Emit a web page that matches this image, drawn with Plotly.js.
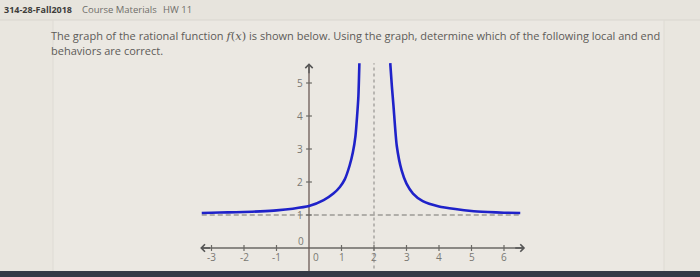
<!DOCTYPE html>
<html>
<head>
<meta charset="utf-8">
<script src="https://cdn.plot.ly/plotly-3.0.1.min.js"></script>
<style>html,body{margin:0;padding:0;background:#e9e6df;}#chart{width:700px;height:277px;}</style>
</head>
<body>
<div id="chart"></div>
<script>
// ---- data ----
const leftX = [-3.3, -3, -2.5, -2, -1.5, -1, -0.5, 0, 0.45, 0.75, 0.95, 1.1, 1.25, 1.35, 1.43, 1.48, 1.52, 1.55];
const leftY = [1.06, 1.07, 1.08, 1.09, 1.11, 1.14, 1.19, 1.27, 1.45, 1.65, 1.85, 2.08, 2.5, 2.9, 3.4, 4.0, 4.6, 5.6];
const rightX = [2.5, 2.55, 2.6, 2.7, 2.85, 3.0, 3.2, 3.5, 4.0, 4.5, 5.0, 5.5, 6.0, 6.5];
const rightY = [5.6, 4.9, 4.3, 3.1, 2.35, 1.95, 1.65, 1.42, 1.26, 1.18, 1.12, 1.09, 1.07, 1.06];
const xTicks = [-3, -2, -1, 1, 2, 3, 4, 5, 6];
const xTickLabels = ['-3', '-2', '-1', '1', '2', '3', '4', '5', '6'];
const yTicks = [1, 2, 3, 4, 5];
const yTickLabels = ['1', '2', '3', '4', '5'];
const vAsymptote = 2;
const hAsymptote = 1;
const xAxisMin = -3.3, xAxisMax = 6.6;
const yAxisMin = -0.8, yAxisMax = 5.55;
const headerBold = '314-28-Fall2018';
const headerItems = ['Course Materials', 'HW 11'];
const mathF = '<span style="font-family:\'DejaVu Serif\';font-size:11.5px"><i>f</i>(<i>x</i>)</span>';
const questionLine1 = 'The graph of the rational function ' + mathF + ' is shown below. Using the graph, determine which of the following local and end';
const questionLine2 = 'behaviors are correct.';

const W = 700, H = 277;
const px = (p) => p / W, py = (p) => 1 - p / H;

const curveStyle = {color: '#1f22c9', width: 2.6};
const traces = [
  {x: leftX, y: leftY, mode: 'lines', line: Object.assign({shape: 'spline', smoothing: 0.6}, curveStyle), hoverinfo: 'skip'},
  {x: rightX, y: rightY, mode: 'lines', line: Object.assign({shape: 'spline', smoothing: 0.6}, curveStyle), hoverinfo: 'skip'}
];

const axisColor = '#6a6864';
const labelColor = '#7a7873';
const shapes = [
  // backgrounds
  {type: 'rect', xref: 'paper', yref: 'paper', x0: 0, x1: 1, y0: py(20), y1: 1, fillcolor: '#e7e4dd', line: {width: 0}, layer: 'below'},
  {type: 'rect', xref: 'paper', yref: 'paper', x0: px(53), x1: px(664), y0: py(271), y1: py(20), fillcolor: '#ebe8e2', line: {width: 0}, layer: 'below'},
  {type: 'line', xref: 'paper', yref: 'paper', x0: 0, x1: 1, y0: py(20), y1: py(20), line: {color: '#d9d6cf', width: 1}, layer: 'below'},
  {type: 'line', xref: 'paper', yref: 'paper', x0: px(53), x1: px(53), y0: py(271), y1: py(20), line: {color: '#dedbd4', width: 1}, layer: 'below'},
  {type: 'line', xref: 'paper', yref: 'paper', x0: px(664), x1: px(664), y0: py(271), y1: py(20), line: {color: '#dedbd4', width: 1}, layer: 'below'},
  {type: 'rect', xref: 'paper', yref: 'paper', x0: 0, x1: 1, y0: 0, y1: py(271), fillcolor: '#343a46', line: {width: 0}, layer: 'above'},
  // asymptotes
  {type: 'line', x0: vAsymptote, x1: vAsymptote, y0: yAxisMin, y1: yAxisMax + 0.05, line: {color: '#9d9b97', width: 1.3, dash: '3px,3px'}, layer: 'below'},
  {type: 'line', x0: xAxisMin, x1: xAxisMax - 0.1, y0: hAsymptote, y1: hAsymptote, line: {color: '#9d9b97', width: 1.3, dash: '5px,3px'}, layer: 'below'},
  // axes
  {type: 'line', x0: xAxisMin, x1: xAxisMax, y0: 0, y1: 0, line: {color: axisColor, width: 1.3}, layer: 'below'},
  {type: 'line', x0: 0, x1: 0, y0: yAxisMin, y1: yAxisMax, line: {color: '#6b5a55', width: 1.3}, layer: 'below'}
];
xTicks.forEach(t => shapes.push({type: 'line', x0: t, x1: t, y0: -0.09, y1: 0.09, line: {color: axisColor, width: 1.2}, layer: 'below'}));
yTicks.forEach(t => shapes.push({type: 'line', x0: -0.09, x1: 0.09, y0: t, y1: t, line: {color: axisColor, width: 1.2}, layer: 'below'}));

const annotations = [];
const tickFont = {family: 'Open Sans', size: 10, color: labelColor};
xTicks.forEach((t, i) => annotations.push({x: t, y: -0.26, text: xTickLabels[i], showarrow: false, font: tickFont, xanchor: 'center', yanchor: 'middle'}));
annotations.push({x: 0.2, y: -0.26, text: '0', showarrow: false, font: tickFont, xanchor: 'center', yanchor: 'middle'});
yTicks.forEach((t, i) => annotations.push({x: -0.12, y: t, text: yTickLabels[i], showarrow: false, font: tickFont, xanchor: 'right', yanchor: 'middle'}));
annotations.push({x: -0.08, y: 0.2, text: '0', showarrow: false, font: tickFont, xanchor: 'right', yanchor: 'middle'});
// axis arrows
const arrowStyle = {showarrow: true, arrowhead: 4, arrowsize: 1.1, arrowwidth: 1.3, arrowcolor: '#555', axref: 'x', ayref: 'y', text: ''};
annotations.push(Object.assign({x: xAxisMin - 0.05, y: 0, ax: xAxisMin + 0.3, ay: 0}, arrowStyle));
annotations.push(Object.assign({x: xAxisMax + 0.05, y: 0, ax: xAxisMax - 0.3, ay: 0}, arrowStyle));
annotations.push(Object.assign({x: 0, y: yAxisMax + 0.05, ax: 0, ay: yAxisMax - 0.3}, arrowStyle));
// page text
annotations.push({xref: 'paper', yref: 'paper', x: px(2), y: py(10), text: '<b>' + headerBold + '</b>', showarrow: false, xanchor: 'left', yanchor: 'middle', font: {family: 'Open Sans', size: 9, color: '#3e3d3b'}});
annotations.push({xref: 'paper', yref: 'paper', x: px(80), y: py(10), text: headerItems[0], showarrow: false, xanchor: 'left', yanchor: 'middle', font: {family: 'Open Sans', size: 9.5, color: '#6f6d69'}});
annotations.push({xref: 'paper', yref: 'paper', x: px(161), y: py(10), text: headerItems[1], showarrow: false, xanchor: 'left', yanchor: 'middle', font: {family: 'Open Sans', size: 9.5, color: '#6f6d69'}});
annotations.push({xref: 'paper', yref: 'paper', x: px(49), y: py(36), text: questionLine1, showarrow: false, xanchor: 'left', yanchor: 'middle', font: {family: 'Open Sans', size: 11, color: '#5d5b58'}});
annotations.push({xref: 'paper', yref: 'paper', x: px(49), y: py(50), text: questionLine2, showarrow: false, xanchor: 'left', yanchor: 'middle', font: {family: 'Open Sans', size: 11, color: '#5d5b58'}});

// pixel mapping: x_px = 309 + 32.5*x ; y_px = 248 - 33*y
const layout = {
  width: W, height: H,
  margin: {l: 0, r: 0, t: 0, b: 0},
  paper_bgcolor: '#e9e6df', plot_bgcolor: 'rgba(0,0,0,0)',
  showlegend: false,
  xaxis: {range: [-309 / 32.5, (W - 309) / 32.5], visible: false, fixedrange: true},
  yaxis: {range: [(248 - H) / 33, 248 / 33], visible: false, fixedrange: true},
  shapes: shapes,
  annotations: annotations
};
Plotly.newPlot('chart', traces, layout, {displayModeBar: false, staticPlot: true});
</script>
</body>
</html>
